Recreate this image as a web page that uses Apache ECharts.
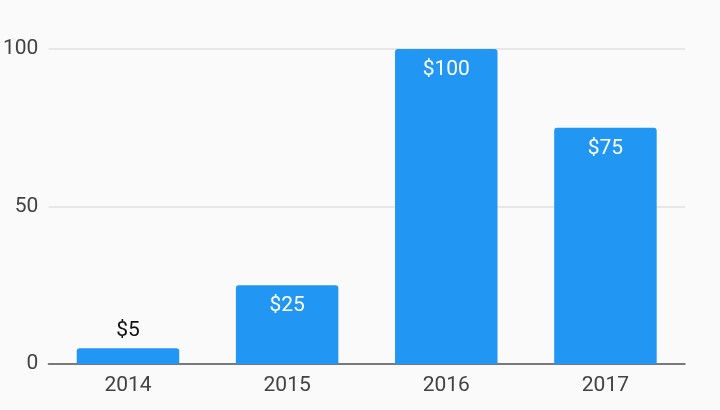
<!DOCTYPE html>
<html><head><meta charset="utf-8">
<script src="https://cdn.jsdelivr.net/npm/echarts@6/dist/echarts.min.js"></script>
<style>html,body{margin:0;padding:0;background:#fafafa}#c{width:720px;height:410px}</style>
</head><body><div id="c"></div>
<script>
var categories = ['2014', '2015', '2016', '2017'];
var sales = [5, 25, 100, 75];
var yTicks = [0, 50, 100];

var chart = echarts.init(document.getElementById('c'), null, {renderer: 'canvas'});
var data = sales.map(function (v) {
  var inside = v >= 20;
  return {
    value: v,
    label: inside
      ? {position: 'insideTop', color: '#ffffff', distance: 10}
      : {position: 'top', color: '#111111', distance: 7}
  };
});
chart.setOption({
  backgroundColor: '#fafafa',
  animation: false,
  grid: {left: 45, right: 35, top: 49, bottom: 46, containLabel: false},
  xAxis: {
    type: 'category',
    data: categories,
    axisLine: {lineStyle: {color: '#555555', width: 1.5}},
    axisTick: {alignWithLabel: true, length: 5, lineStyle: {color: '#bbbbbb'}},
    axisLabel: {color: '#424242', fontSize: 21, fontFamily: 'Roboto', margin: 11}
  },
  yAxis: {
    type: 'value',
    min: yTicks[0],
    max: yTicks[yTicks.length - 1],
    interval: 50,
    axisLine: {show: false},
    axisTick: {show: false},
    splitLine: {lineStyle: {color: '#e0e0e0', width: 1.5}},
    axisLabel: {color: '#424242', fontSize: 21, fontFamily: 'Roboto', margin: 10}
  },
  series: [{
    type: 'bar',
    data: data,
    barWidth: '64.4%',
    itemStyle: {color: '#2196f3', borderRadius: [3, 3, 0, 0]},
    label: {show: true, fontSize: 21, fontFamily: 'Roboto', formatter: function (p) { return '$' + p.value; }}
  }]
});
</script></body></html>
